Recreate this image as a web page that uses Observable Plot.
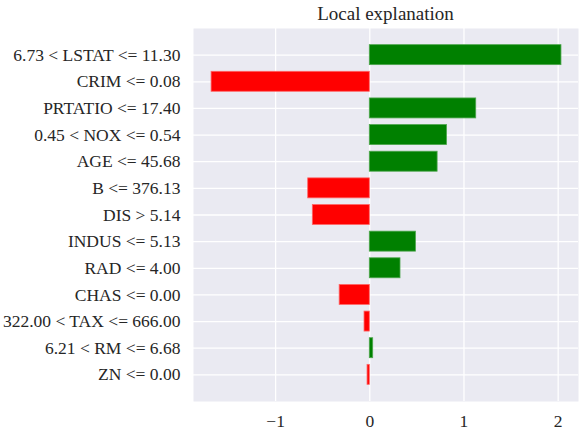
<!DOCTYPE html>
<html>
<head>
<meta charset="utf-8">
<script src="https://cdn.jsdelivr.net/npm/d3@7"></script>
<script src="https://cdn.jsdelivr.net/npm/@observablehq/plot@0.6"></script>
<style>
  body { margin: 0; background: #fff; font-family: "Liberation Serif", "DejaVu Serif", serif; }
  #title { margin-left: 193px; width: 385px; height: 28px; line-height: 28px;
           text-align: center; font-size: 19px; color: #262626; }
  #chart svg, #chart svg text { font-family: "Liberation Serif", serif !important; }
  #chart svg { display: block; }
</style>
</head>
<body>
<div id="title">Local explanation</div>
<div id="chart"></div>
<script>
const features = [
  '6.73 < LSTAT <= 11.30', 'CRIM <= 0.08', 'PRTATIO <= 17.40', '0.45 < NOX <= 0.54',
  'AGE <= 45.68', 'B <= 376.13', 'DIS > 5.14', 'INDUS <= 5.13', 'RAD <= 4.00',
  'CHAS <= 0.00', '322.00 < TAX <= 666.00', '6.21 < RM <= 6.68', 'ZN <= 0.00'
];
const weights = [2.035, -1.68, 1.13, 0.82, 0.72, -0.654, -0.605, 0.49, 0.326, -0.32, -0.056, 0.036, -0.024];
const xTicks = [-1, 0, 1, 2];

const data = features.map((f, i) => ({ feature: f, weight: weights[i] }));

const chart = Plot.plot({
  width: 586,
  height: 405,
  marginLeft: 193,
  marginRight: 8,
  marginTop: 0,
  marginBottom: 32,
  style: { fontSize: '17.5px', color: '#262626' },
  x: { domain: [-1.872, 2.216], ticks: xTicks, label: null },
  y: { domain: features, paddingInner: 0.25, paddingOuter: 0.625, round: false, label: null },
  marks: [
    Plot.frame({ fill: '#EAEAF2', stroke: null }),
    Plot.gridX({ ticks: xTicks, stroke: 'white', strokeOpacity: 1, strokeWidth: 1.3 }),
    Plot.gridY({ stroke: 'white', strokeOpacity: 1, strokeWidth: 1.3 }),
    Plot.barX(data, {
      x: 'weight', y: 'feature',
      fill: d => d.weight > 0 ? 'green' : 'red',
      stroke: d => d.weight > 0 ? '#4da64d' : '#ff6666', strokeWidth: 0.8
    }),
    Plot.axisY({ tickSize: 0, tickPadding: 13, fontSize: 17.5 }),
    Plot.axisX({ ticks: xTicks, tickSize: 0, tickPadding: 13, fontSize: 17.5, tickFormat: d => d < 0 ? '\u2212' + Math.abs(d) : String(d) })
  ]
});
document.getElementById('chart').append(chart);
</script>
</body>
</html>
